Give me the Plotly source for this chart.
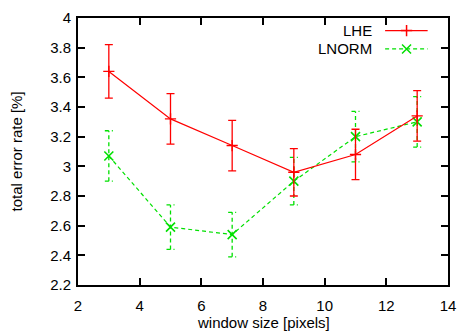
import plotly.graph_objects as go

# Window sizes and total error rates (%) with their error half-widths
window_size = [3, 5, 7, 9, 11, 13]
lhe_rate = [3.64, 3.32, 3.14, 2.96, 3.08, 3.34]
lhe_err = [0.18, 0.17, 0.17, 0.16, 0.17, 0.17]
lnorm_rate = [3.07, 2.59, 2.54, 2.90, 3.20, 3.30]
lnorm_err = [0.17, 0.15, 0.15, 0.16, 0.17, 0.17]

x_ticks = [2, 4, 6, 8, 10, 12, 14]
y_ticks = [2.2, 2.4, 2.6, 2.8, 3.0, 3.2, 3.4, 3.6, 3.8, 4.0]
y_tick_text = ["2.2", "2.4", "2.6", "2.8", "3", "3.2", "3.4", "3.6", "3.8", "4"]

RED = "#ff0000"
GREEN = "#00e000"
DASH = "4px,3px"
FONT = "Liberation Sans, Arial, sans-serif"
FS = 15

fig = go.Figure()

# LNORM: dashed vertical error segments plus dashed caps
seg_x, seg_y = [], []
for xv, yv, ev in zip(window_size, lnorm_rate, lnorm_err):
    seg_x += [xv, xv, None]
    seg_y += [yv - ev, yv + ev, None]
    for yy in (yv - ev, yv + ev):
        seg_x += [xv - 0.13, xv + 0.13, None]
        seg_y += [yy, yy, None]
fig.add_trace(go.Scatter(
    x=seg_x, y=seg_y, mode="lines",
    line=dict(color=GREEN, width=1.3, dash=DASH),
    hoverinfo="skip", showlegend=False,
))
fig.add_trace(go.Scatter(
    x=window_size, y=lnorm_rate, mode="lines+markers", name="LNORM",
    line=dict(color=GREEN, width=1.2, dash=DASH),
    marker=dict(symbol="x-thin", size=9, line=dict(color=GREEN, width=1.6)),
    showlegend=False,
))

# LHE: solid line with error bars
fig.add_trace(go.Scatter(
    x=window_size, y=lhe_rate, mode="lines+markers", name="LHE",
    line=dict(color=RED, width=1.2),
    marker=dict(symbol="cross-thin", size=8, line=dict(color=RED, width=1.4)),
    error_y=dict(type="data", array=lhe_err, color=RED, thickness=1.3, width=4),
    showlegend=False,
))

# Key in the upper right: label text right-aligned, sample to its right
key_rows = [("LHE", RED, "solid", "cross-thin", 0.953, 8),
            ("LNORM", GREEN, DASH, "x-thin", 0.884, 9)]
for label, color, dash, sym, yk, msize in key_rows:
    fig.add_trace(go.Scatter(
        x=[0.83, 0.945], y=[yk, yk], mode="lines", xaxis="x2", yaxis="y2",
        line=dict(color=color, width=1.2, dash=dash), hoverinfo="skip", showlegend=False,
    ))
    fig.add_trace(go.Scatter(
        x=[0.888], y=[yk], mode="markers", xaxis="x2", yaxis="y2",
        marker=dict(symbol=sym, size=msize, line=dict(color=color, width=1.5)),
        hoverinfo="skip", showlegend=False,
    ))
    fig.add_annotation(
        x=0.80, y=yk, xref="x2 domain", yref="y2 domain", text=label,
        showarrow=False, xanchor="right", yanchor="middle",
        font=dict(family=FONT, size=FS, color="black"),
    )

# Axis titles
fig.add_annotation(
    x=0.5, y=-0.142, xref="paper", yref="paper", text="window size [pixels]",
    showarrow=False, xanchor="center", yanchor="middle",
    font=dict(family=FONT, size=FS, color="black"),
)
fig.add_annotation(
    x=-0.165, y=0.5, xref="paper", yref="paper", text="total error rate [%]",
    showarrow=False, xanchor="center", yanchor="middle", textangle=-90,
    font=dict(family=FONT, size=FS, color="black"),
)

axis_common = dict(
    showline=True, linecolor="black", linewidth=2, mirror="ticks",
    ticks="inside", ticklen=7, tickwidth=1.5, tickcolor="black",
    showgrid=False, zeroline=False, automargin=False,
    tickfont=dict(family=FONT, size=FS, color="black"),
)

fig.update_layout(
    width=474, height=331,
    margin=dict(l=78, r=26, t=18, b=46),
    paper_bgcolor="white", plot_bgcolor="white",
    font=dict(family=FONT, size=FS, color="black"),
    xaxis=dict(range=[2, 14], tickvals=x_ticks, ticktext=[str(v) for v in x_ticks],
               ticklabelstandoff=6, **axis_common),
    yaxis=dict(range=[2.2, 4.0], tickvals=y_ticks, ticktext=y_tick_text,
               ticklabelstandoff=2, **axis_common),
    xaxis2=dict(range=[0, 1], overlaying="x", visible=False),
    yaxis2=dict(range=[0, 1], overlaying="y", visible=False),
    showlegend=False,
)

fig.write_html("out.html")
